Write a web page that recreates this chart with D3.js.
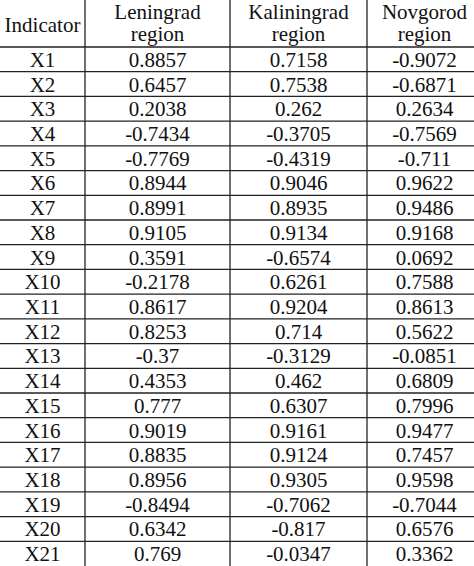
<!DOCTYPE html>
<html><head><meta charset="utf-8">
<script src="https://cdn.jsdelivr.net/npm/d3@7"></script>
<style>body{margin:0;background:#fff}</style>
</head><body>
<div class="canvas"></div>
<script>
const headers = [['Indicator'], ['Leningrad', 'region'], ['Kaliningrad', 'region'], ['Novgorod', 'region']]
const indicators = d3.range(1, 22).map(i => 'X' + i)
const leningrad = ['0.8857','0.6457','0.2038','-0.7434','-0.7769','0.8944','0.8991','0.9105','0.3591','-0.2178','0.8617','0.8253','-0.37','0.4353','0.777','0.9019','0.8835','0.8956','-0.8494','0.6342','0.769']
const kaliningrad = ['0.7158','0.7538','0.262','-0.3705','-0.4319','0.9046','0.8935','0.9134','-0.6574','0.6261','0.9204','0.714','-0.3129','0.462','0.6307','0.9161','0.9124','0.9305','-0.7062','-0.817','-0.0347']
const novgorod = ['-0.9072','-0.6871','0.2634','-0.7569','-0.711','0.9622','0.9486','0.9168','0.0692','0.7588','0.8613','0.5622','-0.0851','0.6809','0.7996','0.9477','0.7457','0.9598','-0.7044','0.6576','0.3362']

const W = 474, H = 566, headH = 47
const colEdges = [0, 85, 230, 367, 474]
const svg = d3.select('.canvas').append('svg').attr('width', W).attr('height', H)
  .style('font-family', '"Liberation Serif", "Times New Roman", serif').style('font-size', '21px')

const y = d3.scaleBand().domain(indicators).range([headH, H])
const cols = [indicators, leningrad, kaliningrad, novgorod]

// header
headers.forEach((lines, c) => {
  const cx = (colEdges[c] + colEdges[c + 1]) / 2
  const t = svg.append('text').attr('text-anchor', 'middle').attr('fill', '#111')
  lines.forEach((l, i) => t.append('tspan').attr('x', c === 3 ? cx + 4 : cx)
    .attr('y', lines.length === 1 ? 32 : 19 + i * 22).text(l))
})

// body
cols.forEach((vals, c) => {
  const cx = (colEdges[c] + colEdges[c + 1]) / 2 + (c === 3 ? 4 : 0)
  svg.append('g').selectAll('text').data(vals).join('text')
    .attr('x', cx).attr('y', (d, i) => y(indicators[i]) + y.bandwidth() / 2 + 7.5)
    .attr('text-anchor', 'middle').attr('fill', '#111').text(d => d)
})

// grid lines
const lines = svg.append('g').attr('stroke', '#222').attr('stroke-width', 1.3)
lines.selectAll('.h').data([headH, ...indicators.slice(1).map(d => y(d))]).join('line')
  .attr('x1', 0).attr('x2', W).attr('y1', d => d).attr('y2', d => d)
lines.selectAll('.v').data(colEdges.slice(1, 4)).join('line')
  .attr('x1', d => d).attr('x2', d => d).attr('y1', 0).attr('y2', H)
</script>
</body></html>
